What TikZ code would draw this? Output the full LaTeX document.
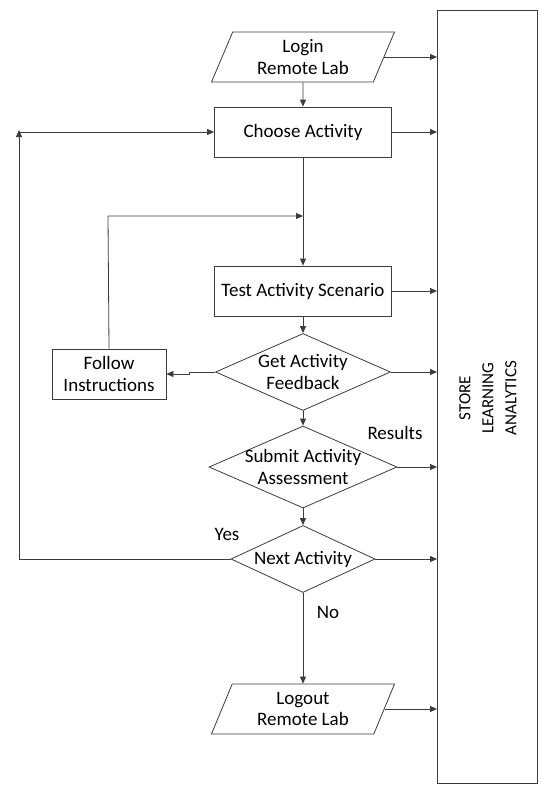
\documentclass[tikz,border=0pt]{standalone}
\usepackage{fontspec}
\setmainfont{Carlito}
\usepackage{tikz}
\usetikzlibrary{arrows.meta, positioning, shapes.geometric}
\definecolor{flline}{RGB}{60,60,60}

\begin{document}
\begin{tikzpicture}[x=1pt, y=-1pt, line width=0.8pt, flline,
  every node/.style={font=\fontsize{19}{21.5}\selectfont, text=black},
  arr/.style={-{Triangle[length=7pt, width=6pt]}},
  procbox/.style={draw, rectangle, minimum height=50pt, align=center, inner sep=2pt},
  iobox/.style={draw, trapezium, trapezium left angle=60, trapezium right angle=120,
                trapezium stretches body, minimum height=50pt, minimum width=183pt,
                align=center, inner sep=1pt},
  decision/.style={draw, diamond, inner sep=0pt}]
  \useasboundingbox (0,0) rectangle (550,796);

  % Analytics store on the right
  \node[draw, rectangle, minimum width=100pt, minimum height=773pt,
        anchor=north west] (store) at (437,10) {};
  \node[rotate=90, align=center, font=\fontsize{17}{23}\selectfont] (storetxt)
    at (488,398) {STORE\\LEARNING\\ANALYTICS};

  % Main flow
  \node[iobox] (login) at (303,57) {Login\\Remote Lab};
  \node[procbox, minimum width=177pt] (choose) at (303,132) {Choose Activity};
  \node[procbox, minimum width=177pt] (test) at (303,291) {Test Activity Scenario};
  \node[decision, minimum width=175pt, minimum height=77pt,
        label={[align=center]center:Get Activity\\Feedback}] (feedback) at (303,372) {};
  \node[procbox, minimum width=114pt] (follow) at (109,374) {Follow\\Instructions};
  \node[decision, minimum width=188pt, minimum height=82pt,
        label={[align=center]center:Submit Activity\\Assessment}] (submit) at (303,467) {};
  \node[decision, minimum width=144pt, minimum height=67pt,
        label={center:Next Activity}] (next) at (303,559) {};
  \node[iobox] (logout) at (303,709) {Logout\\Remote Lab};

  % Branch labels
  \node (results) at (395,433) {Results};
  \node (yes) at (227,534) {Yes};
  \node (no) at (328,612) {No};

  % Loop corners
  \coordinate (fbtop) at (108,216);
  \coordinate (yesbend) at (19,559);
  \coordinate (yestop) at (19,132);

  % Vertical flow
  \draw[arr] (login) -- (choose);
  \draw[arr] (choose) -- (test);
  \draw[arr] (test) -- (feedback);
  \draw[arr] (feedback) -- (submit);
  \draw[arr] (submit) -- (next);
  \draw[arr] (next) -- (logout);

  % Loops back
  \draw[arr] (feedback.west) -- ++(-26,0) -- ++(0,2) -- (follow.east);
  \draw[arr] (follow.north) -- (fbtop) -- (fbtop -| choose.south);
  \draw[arr] (next.west) -- (yesbend) -- ([yshift=2pt]yestop);
  \draw[arr] (yestop) -- (choose.west);

  % Arrows into the store
  \foreach \src in {login, choose, test, feedback, submit, next, logout}
    \draw[arr] (\src.east) -- (\src.east -| store.west);
\end{tikzpicture}
\end{document}
